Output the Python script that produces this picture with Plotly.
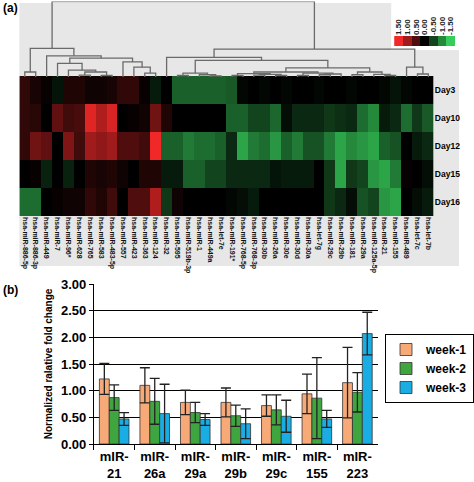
import plotly.graph_objects as go

# ---------------- data: heatmap (panel a) ----------------
mirnas = ["hsa-miR-886-5p","hsa-miR-886-3p","hsa-miR-449","hsa-miR-7","hsa-miR-96*","hsa-miR-628",
          "hsa-miR-765","hsa-miR-583","hsa-miR-483-5p","hsa-miR-557","hsa-miR-423","hsa-miR-363",
          "hsa-miR-124","hsa-miR-32","hsa-miR-595","hsa-miR-519b-3p","hsa-miR-1","hsa-miR-449a",
          "hsa-let-7e","hsa-miR-191*","hsa-miR-768-5p","hsa-miR-768-3p","hsa-miR-30b","hsa-miR-26a",
          "hsa-miR-30e","hsa-miR-30d","hsa-miR-30a","hsa-let-7g","hsa-miR-29c","hsa-miR-29b",
          "hsa-miR-181","hsa-miR-29a","hsa-miR-125a-5p","hsa-miR-21","hsa-miR-155","hsa-miR-489",
          "hsa-let-7c","hsa-let-7b"]
days = ["Day3", "Day10", "Day12", "Day15", "Day16"]

day3 = [0.3,0.15,0.05,-0.15,0.2,0.2,0.1,0.1,0.15,0.3,0.3,0.05,-0.2,0.0,-0.7,-0.7,-0.7,-0.7,-0.7,-0.65,
        -0.05,0.0,-0.05,0.0,-0.05,0.0,0.0,-0.05,0.0,0.0,-0.05,0.0,0.0,-0.05,-0.15,-0.05,0.0,0.0]
day10 = [0.3,0.25,0.0,0.6,0.4,0.45,1.4,1.1,1.35,0.0,0.05,0.1,0.7,0.2,0.0,0.0,0.0,0.0,0.0,-0.7,
         -0.7,-0.5,-0.5,-0.75,-0.1,-0.3,-0.3,-0.3,-0.4,-0.35,-0.3,-0.8,-1.0,-0.2,-0.3,-0.8,-0.4,-0.65]
day12 = [0.3,0.7,0.6,0.0,0.8,0.4,1.0,0.9,1.0,0.5,0.5,0.4,1.5,-0.7,-0.7,-0.9,-0.8,-0.8,-0.7,-0.3,
         -1.2,-0.9,-0.8,-1.1,-0.7,-0.9,-0.6,-0.6,-0.9,-1.2,-1.0,-1.1,-1.2,-0.7,-0.6,0.0,-0.2,-0.3]
day15 = [0.0,0.05,-0.25,0.0,-0.25,0.0,0.2,0.15,0.2,0.1,0.0,0.2,0.2,-0.2,-0.2,-0.7,-0.7,-0.5,-0.5,-0.3,
         -0.3,-0.3,-0.3,-0.15,-0.2,-0.2,-0.2,0.0,-0.4,-1.2,-0.4,-0.5,-1.1,-1.2,-0.9,0.05,0.0,-0.1]
day16 = [-0.8,-0.8,0.0,0.05,0.1,0.1,0.3,0.2,0.4,0.0,0.5,0.5,1.1,-0.4,0.1,0.0,0.0,0.0,0.0,-0.05,
         -0.1,-0.2,0.0,0.0,0.0,0.0,0.0,0.0,-0.4,-0.3,-0.1,-0.6,-0.5,-1.1,-1.2,0.0,-0.1,-0.2]

# dendrogram linkage: (child_a, child_b, height); leaves 0..37, new clusters numbered from 38
linkage = [
    (0, 1, 0.066), (5, 6, 0.026), (7, 8, 0.02), (39, 40, 0.066), (4, 41, 0.09), (3, 42, 0.18),
    (11, 12, 0.05), (10, 44, 0.13), (9, 45, 0.2), (43, 46, 0.25), (2, 47, 0.28), (38, 48, 0.38),
    (14, 15, 0.02), (17, 18, 0.015), (16, 51, 0.03), (50, 52, 0.05),
    (19, 20, 0.02), (21, 22, 0.025), (23, 24, 0.02), (55, 56, 0.035), (54, 57, 0.045),
    (25, 26, 0.02), (27, 28, 0.03), (60, 29, 0.04), (59, 61, 0.05), (58, 62, 0.066),
    (30, 31, 0.03), (33, 34, 0.02), (32, 65, 0.035), (64, 66, 0.066), (63, 67, 0.12),
    (53, 68, 0.22), (13, 69, 0.26), (36, 37, 0.04), (35, 71, 0.13), (70, 72, 0.37), (49, 73, 1.0),
]

legend_values = [1.5, 1.0, 0.5, 0.0, -0.5, -1.0, -1.5]
legend_labels = ["1.50", "1.00", "0.50", "0.00", "-0.50", "-1.00", "-1.50"]

# ---------------- data: bar chart (panel b) ----------------
genes = ["mIR-<br>21", "mIR-<br>26a", "mIR-<br>29a", "mIR-<br>29b", "mIR-<br>29c", "mIR-<br>155", "mIR-<br>223"]
week1 = [1.22, 1.10, 0.78, 0.78, 0.72, 0.94, 1.15]
week1_err = [0.29, 0.33, 0.23, 0.27, 0.20, 0.37, 0.66]
week2 = [0.87, 0.80, 0.59, 0.53, 0.64, 0.86, 0.97]
week2_err = [0.24, 0.43, 0.19, 0.20, 0.28, 0.76, 0.37]
week3 = [0.47, 0.57, 0.46, 0.38, 0.52, 0.47, 2.07]
week3_err = [0.12, 0.55, 0.11, 0.28, 0.30, 0.16, 0.40]

# ---------------- figure ----------------
W, H = 474, 482
def px_x(x):
    return x / W
def px_y(y):
    return 1 - y / H

FONT = "Arial, Liberation Sans, sans-serif"
cscale = [[0.0, "rgb(55,205,90)"], [0.5, "rgb(0,0,0)"], [1.0, "rgb(240,40,40)"]]

fig = go.Figure()

# heatmap
z = [day3, day10, day12, day15, day16]
fig.add_trace(go.Heatmap(z=z, x=list(range(len(mirnas))), y=list(range(len(days))),
                         colorscale=cscale, zmin=-1.5, zmax=1.5, showscale=False,
                         xaxis="x", yaxis="y", hoverinfo="skip"))

# dendrogram computed from linkage
pos = {i: float(i) for i in range(len(mirnas))}
hgt = {i: 0.0 for i in range(len(mirnas))}
dx, dy = [], []
nid = len(mirnas)
for a, b, h in linkage:
    xa, xb = pos[a], pos[b]
    dx += [xa, xa, xb, xb, None]
    dy += [hgt[a], h, h, hgt[b], None]
    pos[nid] = (xa + xb) / 2
    hgt[nid] = h
    nid += 1
fig.add_trace(go.Scatter(x=dx, y=dy, mode="lines", line=dict(color="#6a6a6a", width=1.3),
                         xaxis="x", yaxis="y2", showlegend=False, hoverinfo="skip"))

# colour key
fig.add_trace(go.Heatmap(z=[legend_values], x=list(range(len(legend_values))), y=[0],
                         colorscale=cscale, zmin=-1.5, zmax=1.5, showscale=False,
                         xaxis="x4", yaxis="y4", hoverinfo="skip"))

# bars
colors = ["#F7A978", "#3FA63F", "#1AADE4"]
for name, vals, errs, col in [("week-1", week1, week1_err, colors[0]),
                              ("week-2", week2, week2_err, colors[1]),
                              ("week-3", week3, week3_err, colors[2])]:
    fig.add_trace(go.Bar(x=genes, y=vals, name=name, xaxis="x3", yaxis="y3",
                         marker=dict(color=col, line=dict(color="#333333", width=0.8)),
                         error_y=dict(type="data", array=errs, visible=True, color="#222222",
                                      thickness=1.3, width=5)))

fig.update_layout(
    width=W, height=H, margin=dict(l=0, r=0, t=0, b=0),
    paper_bgcolor="white", plot_bgcolor="rgba(0,0,0,0)",
    font=dict(family=FONT, color="black"),
    barmode="group", bargap=0.27, bargroupgap=0.0,
    showlegend=True,
    legend=dict(x=px_x(398), y=px_y(334), xanchor="left", yanchor="top",
                bordercolor="black", borderwidth=1, bgcolor="white",
                font=dict(family=FONT, size=12, color="black", weight="bold"),
                itemwidth=30, tracegroupgap=0),
    xaxis=dict(domain=[px_x(20), px_x(448)], range=[-0.5, len(mirnas) - 0.5], anchor="y",
               tickmode="array", tickvals=list(range(len(mirnas))), ticktext=mirnas,
               tickangle=90, tickfont=dict(size=7, color="#111", weight="bold"),
               showgrid=False, zeroline=False, ticks="", automargin=False),
    yaxis=dict(domain=[px_y(216), px_y(76)], range=[len(days) - 0.5, -0.5], anchor="x",
               side="right", tickmode="array", tickvals=list(range(len(days))), ticktext=days,
               tickfont=dict(size=8.5, color="black", weight="bold"),
               showgrid=False, zeroline=False, ticks="", automargin=False),
    yaxis2=dict(domain=[px_y(77), px_y(1.5)], range=[0, 1], anchor="x", visible=False),
    xaxis3=dict(domain=[px_x(97), px_x(390)], anchor="y3", type="category",
                showline=True, linecolor="black", linewidth=1.2,
                ticks="outside", tickson="boundaries", ticklen=5, tickcolor="black",
                tickfont=dict(size=13, color="black", weight="bold"),
                showgrid=False, automargin=False),
    yaxis3=dict(domain=[px_y(444), px_y(284)], anchor="x3", range=[0, 3], dtick=0.5,
                tickformat=".2f", showline=True, linecolor="black", linewidth=1.2,
                ticks="outside", ticklen=4, tickcolor="black",
                showgrid=True, gridcolor="black", gridwidth=1, zeroline=False,
                tickfont=dict(size=13, color="black", weight="bold"),
                title=dict(text="Normalized ralative fold change", standoff=6,
                           font=dict(size=10, color="black", weight="bold")),
                automargin=False),
    xaxis4=dict(domain=[px_x(407), px_x(470)], anchor="y4", side="top",
                range=[-0.5, len(legend_values) - 0.5],
                tickmode="array", tickvals=list(range(len(legend_values))), ticktext=legend_labels,
                tickangle=-90, tickfont=dict(size=8, color="#222", weight="bold"),
                ticks="", showgrid=False, zeroline=False, automargin=False),
    yaxis4=dict(domain=[px_y(46), px_y(36)], anchor="x4", visible=False),
    shapes=[
        dict(type="rect", xref="paper", yref="paper", x0=px_x(20), x1=1.0,
             y0=px_y(266), y1=px_y(3), fillcolor="#e7e7e7", line=dict(width=0), layer="below"),
        dict(type="rect", xref="paper", yref="paper", x0=px_x(404), x1=1.0,
             y0=px_y(50), y1=px_y(3), fillcolor="white", line=dict(width=0), layer="below"),
    ],
    annotations=[
        dict(text="(a)", x=px_x(1), y=px_y(8), xref="paper", yref="paper", xanchor="left",
             yanchor="middle", showarrow=False, font=dict(size=12, color="black", weight="bold")),
        dict(text="(b)", x=px_x(1), y=px_y(290), xref="paper", yref="paper", xanchor="left",
             yanchor="middle", showarrow=False, font=dict(size=12, color="black", weight="bold")),
    ],
)

fig.write_html("out.html")
